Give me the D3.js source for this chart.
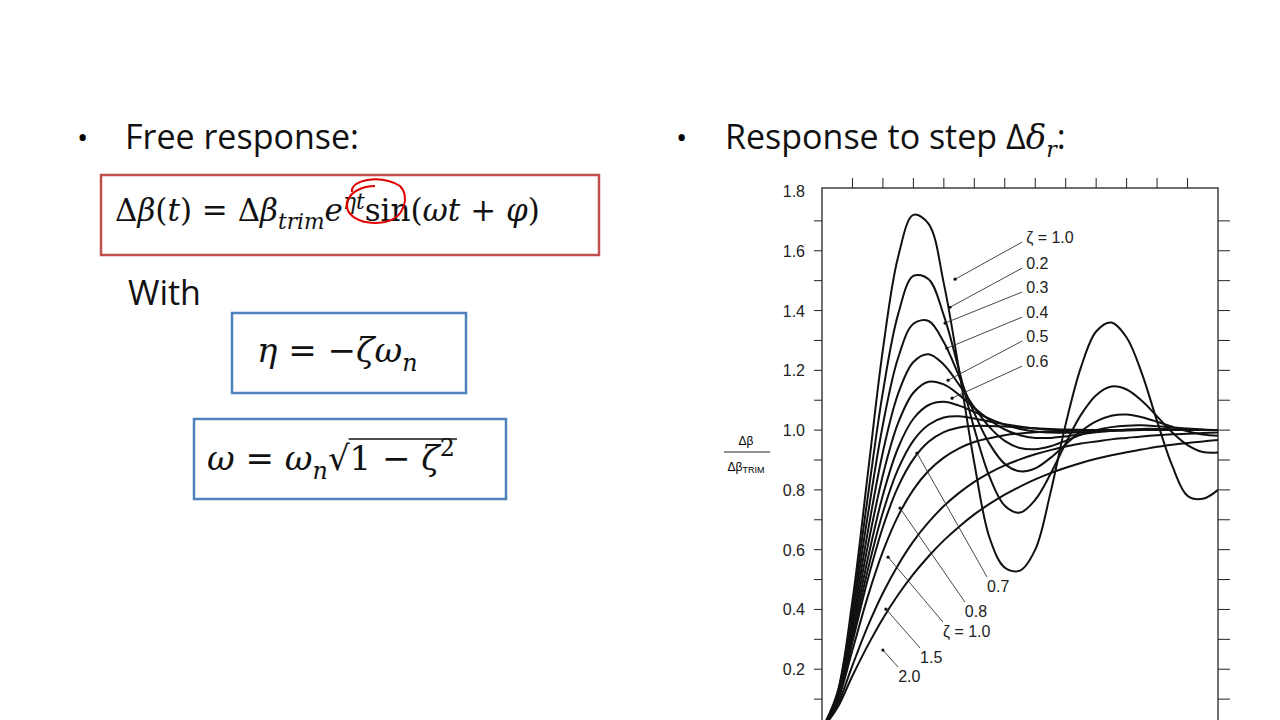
<!DOCTYPE html>
<html><head><meta charset="utf-8">
<script src="https://cdn.jsdelivr.net/npm/d3@7"></script>
<style>body{margin:0;background:#fff}svg{display:block}</style>
</head><body>
<svg id="slide" width="1280" height="720"></svg>
<script>
// time axis (omega_n * t) and step responses
const times = [0,0.5,1,1.5,2,2.5,3,3.5,4,4.5,5,5.5,6,6.5,7,7.5,8,8.5,9,9.5,10,10.5,11,11.5,12,12.5,13];
const z01 = [0,0.12,0.43,0.85,1.27,1.58,1.72,1.69,1.49,1.2,0.89,0.64,0.54,0.53,0.6,0.79,1.02,1.21,1.33,1.36,1.31,1.19,1.03,0.88,0.78,0.77,0.8];
const z02 = [0,0.115,0.405,0.775,1.128,1.388,1.516,1.505,1.383,1.2,1.005,0.844,0.747,0.724,0.767,0.853,0.956,1.051,1.117,1.146,1.136,1.098,1.046,0.992,0.95,0.927,0.925];
const z03 = [0,0.111,0.382,0.713,1.019,1.242,1.356,1.365,1.294,1.18,1.057,0.954,0.887,0.862,0.872,0.907,0.952,0.996,1.029,1.048,1.052,1.043,1.028,1.011,0.996,0.985,0.981];
const z04 = [0,0.107,0.36,0.658,0.927,1.122,1.228,1.254,1.219,1.152,1.076,1.01,0.964,0.94,0.936,0.946,0.964,0.984,1,1.01,1.015,1.016,1.013,1.009,1.005,1.002,1];
const z05 = [0,0.104,0.34,0.611,0.85,1.024,1.125,1.162,1.153,1.118,1.074,1.034,1.002,0.983,0.974,0.974,0.979,0.986,0.993,0.998,1.002,1.004,1.004,1.003,1.002,1.001,1];
const z06 = [0,0.101,0.322,0.568,0.783,0.941,1.038,1.084,1.095,1.082,1.061,1.038,1.018,1.004,0.995,0.992,0.991,0.993,0.995,0.997,0.999,1,1,1,1,1,1];
const z07 = [0,0.098,0.305,0.531,0.725,0.87,0.965,1.018,1.042,1.046,1.039,1.029,1.02,1.012,1.005,1.001,0.999,0.999,1,1,1,1,1,1,1,1,1];
const z08 = [0,0.096,0.291,0.499,0.676,0.811,0.903,0.961,0.993,1.009,1.014,1.014,1.012,1.009,1.006,1.004,1.002,1.001,1,1,1,1,1,1,1,1,1];
const z10 = [0,0.09,0.264,0.442,0.594,0.713,0.801,0.864,0.908,0.939,0.96,0.973,0.983,0.989,0.993,0.995,0.997,0.998,0.999,0.999,1,1,1,1,1,1,1];
const z15 = [0,0.079,0.213,0.343,0.455,0.549,0.628,0.692,0.746,0.79,0.827,0.857,0.882,0.902,0.919,0.933,0.945,0.955,0.962,0.969,0.974,0.979,0.983,0.986,0.988,0.99,0.992];
const z20 = [0,0.07,0.178,0.279,0.37,0.449,0.518,0.578,0.631,0.677,0.718,0.753,0.784,0.811,0.835,0.856,0.874,0.89,0.904,0.916,0.926,0.935,0.944,0.951,0.957,0.962,0.967];
const allSeries = [z01,z02,z03,z04,z05,z06,z07,z08,z10,z15,z20];
const yTickLabels = ["0.2","0.4","0.6","0.8","1.0","1.2","1.4","1.6","1.8"];

// leader labels: text, arrow tip on curve [t,y], line start near label [t,y]
const topLabels = ["ζ = 1.0","0.2","0.3","0.4","0.5","0.6"];
const topTips = [[4.37,1.505],[4.2,1.411],[4.04,1.358],[4.1,1.274],[4.14,1.167],[4.27,1.107]];
const topEnds = [[6.57,1.629],[6.57,1.542],[6.57,1.462],[6.57,1.378],[6.57,1.298],[6.57,1.214]];
const botLabels = ["0.7","0.8","ζ = 1.0","1.5","2.0"];
const botTips = [[3.12,0.923],[2.56,0.739],[2.17,0.575],[2.1,0.401],[2.0,0.264]];
const botEnds = [[5.42,0.508],[4.69,0.425],[3.97,0.358],[3.22,0.271],[2.5,0.207]];

const svg = d3.select('#slide');
const x = d3.scaleLinear().domain([0,13]).range([822,1218]);
const y = d3.scaleLinear().domain([0,1.8]).range([729,191]);
const body = "'Open Sans', Lato, sans-serif";
const math = "'DejaVu Serif', 'Liberation Serif', serif";

// ---- left half: text and equations
function bullet(bx, tx, text) {
  svg.append('text').attr('x', bx).attr('y', 148).attr('font-family', body).attr('font-size', 30).text('•');
  return svg.append('text').attr('x', tx).attr('y', 149).attr('font-family', body).attr('font-size', 34).attr('fill', '#111').text(text);
}
bullet(77, 125, 'Free response:');
const t2 = bullet(676, 725, 'Response to step Δ');
t2.append('tspan').attr('font-family', math).attr('font-style', 'italic').text('δ');
t2.append('tspan').attr('font-family', math).attr('font-style', 'italic').attr('font-size', 22).attr('dy', 8).text('r');
t2.append('tspan').attr('dy', -8).text(':');

svg.append('rect').attr('x', 101).attr('y', 175).attr('width', 498).attr('height', 80).attr('fill', 'none').attr('stroke', '#c0504d').attr('stroke-width', 2.5);
svg.append('rect').attr('x', 232).attr('y', 313).attr('width', 234).attr('height', 80).attr('fill', 'none').attr('stroke', '#4f81bd').attr('stroke-width', 2.5);
svg.append('rect').attr('x', 194).attr('y', 419).attr('width', 312).attr('height', 80).attr('fill', 'none').attr('stroke', '#4f81bd').attr('stroke-width', 2.5);
svg.append('text').attr('x', 128).attr('y', 305).attr('font-family', body).attr('font-size', 34).attr('fill', '#111').text('With');

function eq(ex, ey, parts, size) {
  const t = svg.append('text').attr('x', ex).attr('y', ey).attr('font-family', math).attr('font-size', size).attr('fill', '#111');
  let shift = 0;
  parts.forEach(p => {
    const s = t.append('tspan').text(p.s);
    if (p.i) s.attr('font-style', 'italic');
    let target = 0;
    if (p.sub) { s.attr('font-size', size * 0.7); target = size * 0.25; }
    if (p.sup) { s.attr('font-size', size * 0.7); target = -size * 0.4; }
    if (target !== shift) { s.attr('dy', target - shift); shift = target; }
  });
  return t;
}
eq(115, 221, [{s:'Δ'},{s:'β',i:1},{s:'('},{s:'t',i:1},{s:') = Δ'},{s:'β',i:1},{s:'trim',i:1,sub:1},
  {s:'e',i:1},{s:'ηt',i:1,sup:1},{s:'sin('},{s:'ωt',i:1},{s:' + '},{s:'φ',i:1},{s:')'}], 31);
eq(257, 362, [{s:'η',i:1},{s:' = −'},{s:'ζω',i:1},{s:'n',i:1,sub:1}], 34);
const e3 = eq(207, 470, [{s:'ω',i:1},{s:' = '},{s:'ω',i:1},{s:'n',i:1,sub:1},{s:'√'},{s:'1 − '},{s:'ζ',i:1},{s:'2',sup:1}], 34);
// overline of the root over the radicand
const rootBox = e3.selectAll('tspan').nodes();
const rs = rootBox[4].getExtentOfChar ? rootBox[4] : null;
let ox1 = 370, ox2 = 492;
try {
  const n = e3.node();
  const first = rootBox.slice(0, 5).map(d => d.textContent).join('').length;
  const total = n.getNumberOfChars();
  ox1 = n.getExtentOfChar(first - 1).x + n.getExtentOfChar(first - 1).width - 1;
  ox2 = n.getExtentOfChar(total - 1).x + n.getExtentOfChar(total - 1).width + 2;
} catch (e) {}
svg.append('line').attr('x1', ox1).attr('x2', ox2).attr('y1', 439).attr('y2', 439).attr('stroke', '#111').attr('stroke-width', 1.6);
// red hand circle
svg.append('path').attr('d', 'M352,192 C350,180 380,174 400,186 C410,196 405,218 385,222 C360,226 343,215 348,200 C351,192 362,186 375,186')
  .attr('fill', 'none').attr('stroke', '#e00000').attr('stroke-width', 2);

// ---- chart
const g = svg.append('g');
g.append('rect').attr('x', 822).attr('y', 188).attr('width', 396).attr('height', 560).attr('fill', 'none').attr('stroke', '#222').attr('stroke-width', 1.3);
const tenths = d3.range(1, 18).map(i => i / 10);
g.selectAll('.lt').data(tenths).join('line').attr('x1', 814).attr('x2', 822).attr('y1', d => y(d)).attr('y2', d => y(d)).attr('stroke', '#222');
g.selectAll('.rt').data(tenths).join('line').attr('x1', 1218).attr('x2', 1230).attr('y1', d => y(d)).attr('y2', d => y(d)).attr('stroke', '#222');
g.selectAll('.tt').data(d3.range(1, 13)).join('line').attr('x1', d => x(d)).attr('x2', d => x(d)).attr('y1', 178).attr('y2', 188).attr('stroke', '#222');
g.selectAll('.yl').data(yTickLabels).join('text').attr('x', 805).attr('y', d => y(+d) + 6).attr('text-anchor', 'end')
  .attr('font-family', "'Liberation Sans', Arial, sans-serif").attr('font-size', 16).attr('fill', '#222').text(d => d);
svg.append('text').attr('x', 746).attr('y', 445).attr('text-anchor', 'middle').attr('font-family', "'Liberation Sans', sans-serif").attr('font-size', 12).text('Δβ');
svg.append('line').attr('x1', 724).attr('x2', 770).attr('y1', 452).attr('y2', 452).attr('stroke', '#222');
const tr = svg.append('text').attr('x', 746).attr('y', 471).attr('text-anchor', 'middle').attr('font-family', "'Liberation Sans', sans-serif").attr('font-size', 12).text('Δβ');
tr.append('tspan').attr('font-size', 9).attr('dy', 2).text('TRIM');

svg.append('clipPath').attr('id', 'plot').append('rect').attr('x', 822).attr('y', 188).attr('width', 396).attr('height', 560);
const line = d3.line().x((d, i) => x(times[i])).y(d => y(d)).curve(d3.curveCatmullRom);
g.append('g').attr('clip-path', 'url(#plot)').selectAll('path').data(allSeries).join('path')
  .attr('d', line).attr('fill', 'none').attr('stroke', '#111').attr('stroke-width', 2);

function leaders(labels, tips, ends, dx, dyText, anchor) {
  labels.forEach((lab, i) => {
    g.append('line').attr('x1', x(ends[i][0])).attr('y1', y(ends[i][1])).attr('x2', x(tips[i][0])).attr('y2', y(tips[i][1]))
      .attr('stroke', '#333').attr('stroke-width', 0.9);
    g.append('circle').attr('cx', x(tips[i][0])).attr('cy', y(tips[i][1])).attr('r', 1.6).attr('fill', '#111');
    g.append('text').attr('x', x(ends[i][0]) + dx).attr('y', y(ends[i][1]) + dyText).attr('text-anchor', anchor)
      .attr('font-family', "'Liberation Sans', Arial, sans-serif").attr('font-size', 16).attr('fill', '#222').text(lab);
  });
}
leaders(topLabels, topTips, topEnds, 4, 1, 'start');
leaders(botLabels, botTips, botEnds, 0, 15, 'start');
</script>
</body></html>
